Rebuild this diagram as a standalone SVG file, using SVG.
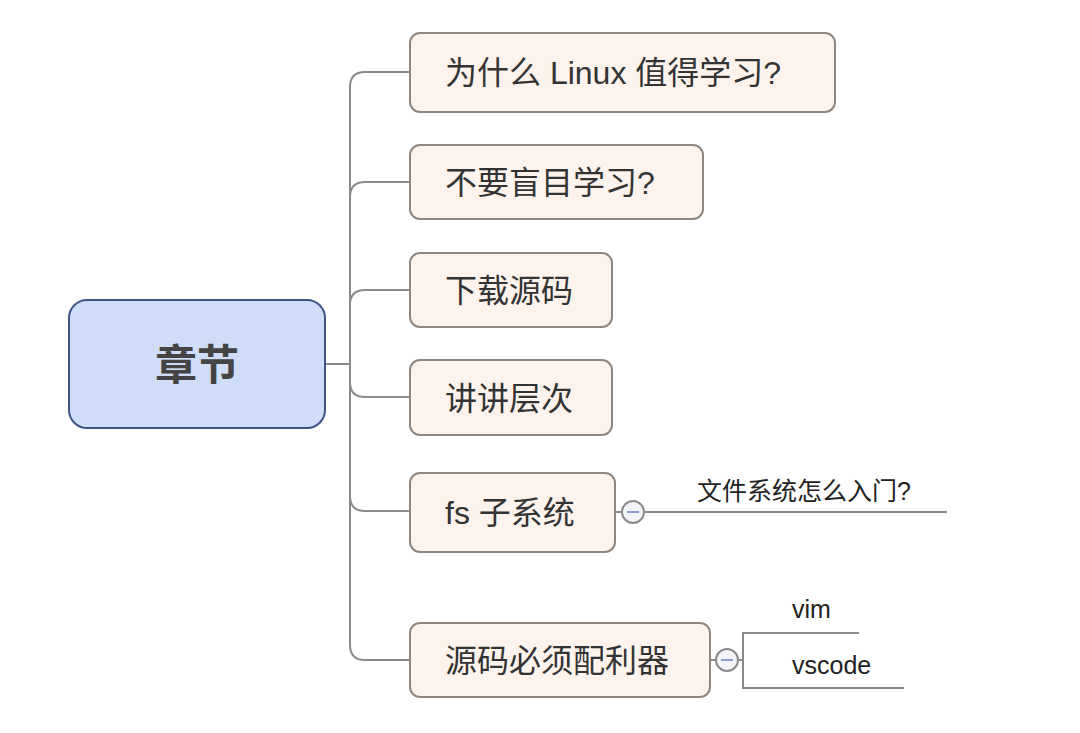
<svg xmlns="http://www.w3.org/2000/svg" width="1080" height="733" viewBox="0 0 1080 733">
<style>
.root{fill:#cfddf8;stroke:#3f5585;stroke-width:2}
.box{fill:#fcf3ec;stroke:#8f877f;stroke-width:2}
.conn{fill:none;stroke:#8a8a8a;stroke-width:2}
.t{font-family:"Liberation Sans","Noto Sans CJK SC",sans-serif;fill:#333;font-size:32px}
.rt{font-family:"Liberation Sans","Noto Sans CJK SC",sans-serif;fill:#444;font-size:42px;font-weight:bold}
.st{font-family:"Liberation Sans","Noto Sans CJK SC",sans-serif;fill:#222;font-size:25px}
.col{fill:#f3f4f8;stroke:#8a8a8a;stroke-width:2}
.minus{stroke:#8f9dd0;stroke-width:2}
</style>
<rect width="1080" height="733" fill="#ffffff"/>
<g id="connectors">
<path class="conn" d="M325 364 H350"/>
<path class="conn" d="M350 87 V645"/>
<path class="conn" d="M350 87 Q350 72 365 72 H410"/>
<path class="conn" d="M350 197 Q350 182 365 182 H410"/>
<path class="conn" d="M350 305 Q350 290 365 290 H410"/>
<path class="conn" d="M350 382 Q350 397 365 397 H410"/>
<path class="conn" d="M350 496 Q350 511 365 511 H410"/>
<path class="conn" d="M350 645 Q350 660 365 660 H410"/>
<path class="conn" d="M615 512 H621"/>
<path class="conn" d="M645 512 H947"/>
<path class="conn" d="M710 660 H716"/>
<path class="conn" d="M738 660 H743"/>
<path class="conn" d="M859 633 H743 V688 H904"/>
</g>
<g id="root">
<rect class="root" x="69" y="300" width="256" height="128" rx="18"/>
<text class="rt" x="197" y="380" text-anchor="middle">章节</text>
</g>
<g id="n1">
<rect class="box" x="410" y="33" width="425" height="79" rx="10"/>
<text class="t" x="445" y="84">为什么 Linux 值得学习?</text>
</g>
<g id="n2">
<rect class="box" x="410" y="145" width="293" height="74" rx="10"/>
<text class="t" x="445" y="194">不要盲目学习?</text>
</g>
<g id="n3">
<rect class="box" x="410" y="253" width="202" height="74" rx="10"/>
<text class="t" x="445" y="302">下载源码</text>
</g>
<g id="n4">
<rect class="box" x="410" y="360" width="202" height="75" rx="10"/>
<text class="t" x="445" y="410">讲讲层次</text>
</g>
<g id="n5">
<rect class="box" x="410" y="473" width="205" height="79" rx="10"/>
<text class="t" x="445" y="524">fs 子系统</text>
</g>
<g id="n5c">
<circle class="col" cx="633" cy="512" r="11"/>
<line class="minus" x1="627" y1="512" x2="639" y2="512"/>
</g>
<g id="n5a">
<text class="st" x="697" y="500">文件系统怎么入门?</text>
</g>
<g id="n6">
<rect class="box" x="410" y="623" width="300" height="74" rx="10"/>
<text class="t" x="445" y="672">源码必须配利器</text>
</g>
<g id="n6c">
<circle class="col" cx="727" cy="660" r="11"/>
<line class="minus" x1="721" y1="660" x2="733" y2="660"/>
</g>
<g id="n6a">
<text class="st" x="792" y="618">vim</text>
</g>
<g id="n6b">
<text class="st" x="792" y="674">vscode</text>
</g>
</svg>
